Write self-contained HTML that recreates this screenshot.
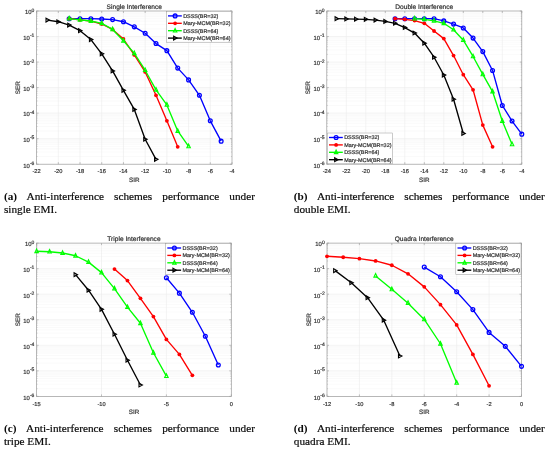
<!DOCTYPE html>
<html><head><meta charset="utf-8"><title>Anti-interference schemes performance</title>
<style>
html,body{margin:0;padding:0;background:#fff;}
body{width:550px;height:452px;position:relative;overflow:hidden;}
svg{position:absolute;left:0;top:0;font-family:"Liberation Sans",sans-serif;text-rendering:geometricPrecision;}
svg text{stroke:#3a3a3a;stroke-width:0.2px;}
.cap{position:absolute;width:251px;font-family:"Liberation Serif",serif;font-size:11.25px;line-height:13px;color:#0a0a0a;-webkit-text-stroke:0.2px #0a0a0a;white-space:nowrap;}
.cap .l1{text-align:justify;text-align-last:justify;white-space:normal;height:13.2px;}
.cap .l2{height:13.2px;}
.cap b{-webkit-text-stroke:0;}
</style></head><body>
<svg width="550" height="452" viewBox="0 0 550 452">
<rect x="36.6" y="11.0" width="195.40" height="153.20" fill="#fff"/>
<path d="M36.6 28.85H232M36.6 24.35H232M36.6 21.16H232M36.6 18.69H232M36.6 16.66H232M36.6 14.96H232M36.6 13.47H232M36.6 12.17H232M36.6 54.38H232M36.6 49.88H232M36.6 46.69H232M36.6 44.22H232M36.6 42.2H232M36.6 40.49H232M36.6 39.01H232M36.6 37.7H232M36.6 79.91H232M36.6 75.42H232M36.6 72.23H232M36.6 69.75H232M36.6 67.73H232M36.6 66.02H232M36.6 64.54H232M36.6 63.24H232M36.6 105.45H232M36.6 100.95H232M36.6 97.76H232M36.6 95.29H232M36.6 93.26H232M36.6 91.56H232M36.6 90.07H232M36.6 88.77H232M36.6 130.98H232M36.6 126.48H232M36.6 123.29H232M36.6 120.82H232M36.6 118.8H232M36.6 117.09H232M36.6 115.61H232M36.6 114.3H232M36.6 156.51H232M36.6 152.02H232M36.6 148.83H232M36.6 146.35H232M36.6 144.33H232M36.6 142.62H232M36.6 141.14H232M36.6 139.84H232" stroke="#f4f4f4" stroke-width="0.5" fill="none"/>
<path d="M36.6 36.53H232M36.6 62.07H232M36.6 87.6H232M36.6 113.13H232M36.6 138.67H232M58.31 11V164.2M80.02 11V164.2M101.73 11V164.2M123.44 11V164.2M145.16 11V164.2M166.87 11V164.2M188.58 11V164.2M210.29 11V164.2" stroke="#ebebeb" stroke-width="0.6" fill="none"/>
<rect x="36.6" y="11.0" width="195.40" height="153.20" fill="none" stroke="#9a9a9a" stroke-width="0.7"/>
<path d="M36.6 164.2v-2M36.6 11v2M58.31 164.2v-2M58.31 11v2M80.02 164.2v-2M80.02 11v2M101.73 164.2v-2M101.73 11v2M123.44 164.2v-2M123.44 11v2M145.16 164.2v-2M145.16 11v2M166.87 164.2v-2M166.87 11v2M188.58 164.2v-2M188.58 11v2M210.29 164.2v-2M210.29 11v2M232 164.2v-2M232 11v2M36.6 11h2M232 11h-2M36.6 36.53h2M232 36.53h-2M36.6 62.07h2M232 62.07h-2M36.6 87.6h2M232 87.6h-2M36.6 113.13h2M232 113.13h-2M36.6 138.67h2M232 138.67h-2M36.6 164.2h2M232 164.2h-2" stroke="#9a9a9a" stroke-width="0.6" fill="none"/>
<path d="M36.6 28.85h1M232 28.85h-1M36.6 24.35h1M232 24.35h-1M36.6 21.16h1M232 21.16h-1M36.6 18.69h1M232 18.69h-1M36.6 16.66h1M232 16.66h-1M36.6 14.96h1M232 14.96h-1M36.6 13.47h1M232 13.47h-1M36.6 12.17h1M232 12.17h-1M36.6 54.38h1M232 54.38h-1M36.6 49.88h1M232 49.88h-1M36.6 46.69h1M232 46.69h-1M36.6 44.22h1M232 44.22h-1M36.6 42.2h1M232 42.2h-1M36.6 40.49h1M232 40.49h-1M36.6 39.01h1M232 39.01h-1M36.6 37.7h1M232 37.7h-1M36.6 79.91h1M232 79.91h-1M36.6 75.42h1M232 75.42h-1M36.6 72.23h1M232 72.23h-1M36.6 69.75h1M232 69.75h-1M36.6 67.73h1M232 67.73h-1M36.6 66.02h1M232 66.02h-1M36.6 64.54h1M232 64.54h-1M36.6 63.24h1M232 63.24h-1M36.6 105.45h1M232 105.45h-1M36.6 100.95h1M232 100.95h-1M36.6 97.76h1M232 97.76h-1M36.6 95.29h1M232 95.29h-1M36.6 93.26h1M232 93.26h-1M36.6 91.56h1M232 91.56h-1M36.6 90.07h1M232 90.07h-1M36.6 88.77h1M232 88.77h-1M36.6 130.98h1M232 130.98h-1M36.6 126.48h1M232 126.48h-1M36.6 123.29h1M232 123.29h-1M36.6 120.82h1M232 120.82h-1M36.6 118.8h1M232 118.8h-1M36.6 117.09h1M232 117.09h-1M36.6 115.61h1M232 115.61h-1M36.6 114.3h1M232 114.3h-1M36.6 156.51h1M232 156.51h-1M36.6 152.02h1M232 152.02h-1M36.6 148.83h1M232 148.83h-1M36.6 146.35h1M232 146.35h-1M36.6 144.33h1M232 144.33h-1M36.6 142.62h1M232 142.62h-1M36.6 141.14h1M232 141.14h-1M36.6 139.84h1M232 139.84h-1" stroke="#9a9a9a" stroke-width="0.4" fill="none"/>
<path d="M69.17 18.69 L80.02 18.69 L90.88 18.69 L101.73 19.02 L112.59 19.61 L123.44 21.73 L134.30 26.83 L145.16 33.21 L156.01 43.57 L166.87 50.65 L177.72 68.11 L188.58 79.91 L199.43 95.29 L210.29 120.82 L221.14 141.14" fill="none" stroke="#0000ff" stroke-width="1.35" stroke-linejoin="round"/>
<circle cx="69.17" cy="18.69" r="1.90" fill="none" stroke="#0000ff" stroke-width="1.3"/>
<circle cx="80.02" cy="18.69" r="1.90" fill="none" stroke="#0000ff" stroke-width="1.3"/>
<circle cx="90.88" cy="18.69" r="1.90" fill="none" stroke="#0000ff" stroke-width="1.3"/>
<circle cx="101.73" cy="19.02" r="1.90" fill="none" stroke="#0000ff" stroke-width="1.3"/>
<circle cx="112.59" cy="19.61" r="1.90" fill="none" stroke="#0000ff" stroke-width="1.3"/>
<circle cx="123.44" cy="21.73" r="1.90" fill="none" stroke="#0000ff" stroke-width="1.3"/>
<circle cx="134.30" cy="26.83" r="1.90" fill="none" stroke="#0000ff" stroke-width="1.3"/>
<circle cx="145.16" cy="33.21" r="1.90" fill="none" stroke="#0000ff" stroke-width="1.3"/>
<circle cx="156.01" cy="43.57" r="1.90" fill="none" stroke="#0000ff" stroke-width="1.3"/>
<circle cx="166.87" cy="50.65" r="1.90" fill="none" stroke="#0000ff" stroke-width="1.3"/>
<circle cx="177.72" cy="68.11" r="1.90" fill="none" stroke="#0000ff" stroke-width="1.3"/>
<circle cx="188.58" cy="79.91" r="1.90" fill="none" stroke="#0000ff" stroke-width="1.3"/>
<circle cx="199.43" cy="95.29" r="1.90" fill="none" stroke="#0000ff" stroke-width="1.3"/>
<circle cx="210.29" cy="120.82" r="1.90" fill="none" stroke="#0000ff" stroke-width="1.3"/>
<circle cx="221.14" cy="141.14" r="1.90" fill="none" stroke="#0000ff" stroke-width="1.3"/>
<path d="M69.17 18.69 L80.02 19.85 L90.88 21.16 L101.73 23.99 L112.59 29.42 L123.44 39.01 L134.30 54.95 L145.16 71.95 L156.01 95.29 L166.87 120.82 L177.72 146.81" fill="none" stroke="#ff0000" stroke-width="1.35" stroke-linejoin="round"/>
<circle cx="69.17" cy="18.69" r="1.90" fill="#ff0000"/>
<circle cx="80.02" cy="19.85" r="1.90" fill="#ff0000"/>
<circle cx="90.88" cy="21.16" r="1.90" fill="#ff0000"/>
<circle cx="101.73" cy="23.99" r="1.90" fill="#ff0000"/>
<circle cx="112.59" cy="29.42" r="1.90" fill="#ff0000"/>
<circle cx="123.44" cy="39.01" r="1.90" fill="#ff0000"/>
<circle cx="134.30" cy="54.95" r="1.90" fill="#ff0000"/>
<circle cx="145.16" cy="71.95" r="1.90" fill="#ff0000"/>
<circle cx="156.01" cy="95.29" r="1.90" fill="#ff0000"/>
<circle cx="166.87" cy="120.82" r="1.90" fill="#ff0000"/>
<circle cx="177.72" cy="146.81" r="1.90" fill="#ff0000"/>
<path d="M69.17 18.69 L80.02 19.85 L90.88 21.02 L101.73 23.29 L112.59 29.42 L123.44 40.81 L134.30 53.32 L145.16 70.21 L156.01 89.80 L166.87 104.91 L177.72 130.98 L188.58 146.35" fill="none" stroke="#00ff00" stroke-width="1.35" stroke-linejoin="round"/>
<path d="M67.42 20.04L70.92 20.04L69.17 16.39Z" fill="none" stroke="#00ff00" stroke-width="1.1" stroke-linejoin="miter"/>
<path d="M78.27 21.20L81.77 21.20L80.02 17.55Z" fill="none" stroke="#00ff00" stroke-width="1.1" stroke-linejoin="miter"/>
<path d="M89.13 22.37L92.63 22.37L90.88 18.72Z" fill="none" stroke="#00ff00" stroke-width="1.1" stroke-linejoin="miter"/>
<path d="M99.98 24.64L103.48 24.64L101.73 20.99Z" fill="none" stroke="#00ff00" stroke-width="1.1" stroke-linejoin="miter"/>
<path d="M110.84 30.77L114.34 30.77L112.59 27.12Z" fill="none" stroke="#00ff00" stroke-width="1.1" stroke-linejoin="miter"/>
<path d="M121.69 42.16L125.19 42.16L123.44 38.51Z" fill="none" stroke="#00ff00" stroke-width="1.1" stroke-linejoin="miter"/>
<path d="M132.55 54.67L136.05 54.67L134.30 51.02Z" fill="none" stroke="#00ff00" stroke-width="1.1" stroke-linejoin="miter"/>
<path d="M143.41 71.56L146.91 71.56L145.16 67.91Z" fill="none" stroke="#00ff00" stroke-width="1.1" stroke-linejoin="miter"/>
<path d="M154.26 91.15L157.76 91.15L156.01 87.50Z" fill="none" stroke="#00ff00" stroke-width="1.1" stroke-linejoin="miter"/>
<path d="M165.12 106.26L168.62 106.26L166.87 102.61Z" fill="none" stroke="#00ff00" stroke-width="1.1" stroke-linejoin="miter"/>
<path d="M175.97 132.33L179.47 132.33L177.72 128.68Z" fill="none" stroke="#00ff00" stroke-width="1.1" stroke-linejoin="miter"/>
<path d="M186.83 147.70L190.33 147.70L188.58 144.05Z" fill="none" stroke="#00ff00" stroke-width="1.1" stroke-linejoin="miter"/>
<path d="M47.46 20.10 L58.31 21.73 L69.17 25.12 L80.02 30.65 L90.88 39.58 L101.73 53.84 L112.59 70.92 L123.44 90.36 L134.30 109.40 L145.16 139.24 L156.01 159.34" fill="none" stroke="#000000" stroke-width="1.35" stroke-linejoin="round"/>
<path d="M46.01 18.20L46.01 22.00L49.46 20.10Z" fill="none" stroke="#000000" stroke-width="1.1" stroke-linejoin="miter"/>
<path d="M56.86 19.83L56.86 23.63L60.31 21.73Z" fill="none" stroke="#000000" stroke-width="1.1" stroke-linejoin="miter"/>
<path d="M67.72 23.22L67.72 27.02L71.17 25.12Z" fill="none" stroke="#000000" stroke-width="1.1" stroke-linejoin="miter"/>
<path d="M78.57 28.75L78.57 32.55L82.02 30.65Z" fill="none" stroke="#000000" stroke-width="1.1" stroke-linejoin="miter"/>
<path d="M89.43 37.68L89.43 41.48L92.88 39.58Z" fill="none" stroke="#000000" stroke-width="1.1" stroke-linejoin="miter"/>
<path d="M100.28 51.94L100.28 55.74L103.73 53.84Z" fill="none" stroke="#000000" stroke-width="1.1" stroke-linejoin="miter"/>
<path d="M111.14 69.02L111.14 72.82L114.59 70.92Z" fill="none" stroke="#000000" stroke-width="1.1" stroke-linejoin="miter"/>
<path d="M121.99 88.46L121.99 92.26L125.44 90.36Z" fill="none" stroke="#000000" stroke-width="1.1" stroke-linejoin="miter"/>
<path d="M132.85 107.50L132.85 111.30L136.30 109.40Z" fill="none" stroke="#000000" stroke-width="1.1" stroke-linejoin="miter"/>
<path d="M143.71 137.34L143.71 141.14L147.16 139.24Z" fill="none" stroke="#000000" stroke-width="1.1" stroke-linejoin="miter"/>
<path d="M154.56 157.44L154.56 161.24L158.01 159.34Z" fill="none" stroke="#000000" stroke-width="1.1" stroke-linejoin="miter"/>
<text x="36.60" y="173.40" font-size="5.7" text-anchor="middle" fill="#333333">-22</text>
<text x="58.31" y="173.40" font-size="5.7" text-anchor="middle" fill="#333333">-20</text>
<text x="80.02" y="173.40" font-size="5.7" text-anchor="middle" fill="#333333">-18</text>
<text x="101.73" y="173.40" font-size="5.7" text-anchor="middle" fill="#333333">-16</text>
<text x="123.44" y="173.40" font-size="5.7" text-anchor="middle" fill="#333333">-14</text>
<text x="145.16" y="173.40" font-size="5.7" text-anchor="middle" fill="#333333">-12</text>
<text x="166.87" y="173.40" font-size="5.7" text-anchor="middle" fill="#333333">-10</text>
<text x="188.58" y="173.40" font-size="5.7" text-anchor="middle" fill="#333333">-8</text>
<text x="210.29" y="173.40" font-size="5.7" text-anchor="middle" fill="#333333">-6</text>
<text x="232.00" y="173.40" font-size="5.7" text-anchor="middle" fill="#333333">-4</text>
<text x="31.50" y="14.30" font-size="5.9" text-anchor="end" fill="#333333">10</text>
<text x="34.40" y="11.50" font-size="5" text-anchor="end" fill="#333333">0</text>
<text x="29.80" y="39.83" font-size="5.9" text-anchor="end" fill="#333333">10</text>
<text x="34.40" y="37.03" font-size="5" text-anchor="end" fill="#333333">-1</text>
<text x="29.80" y="65.37" font-size="5.9" text-anchor="end" fill="#333333">10</text>
<text x="34.40" y="62.57" font-size="5" text-anchor="end" fill="#333333">-2</text>
<text x="29.80" y="90.90" font-size="5.9" text-anchor="end" fill="#333333">10</text>
<text x="34.40" y="88.10" font-size="5" text-anchor="end" fill="#333333">-3</text>
<text x="29.80" y="116.43" font-size="5.9" text-anchor="end" fill="#333333">10</text>
<text x="34.40" y="113.63" font-size="5" text-anchor="end" fill="#333333">-4</text>
<text x="29.80" y="141.97" font-size="5.9" text-anchor="end" fill="#333333">10</text>
<text x="34.40" y="139.17" font-size="5" text-anchor="end" fill="#333333">-5</text>
<text x="29.80" y="167.50" font-size="5.9" text-anchor="end" fill="#333333">10</text>
<text x="34.40" y="164.70" font-size="5" text-anchor="end" fill="#333333">-6</text>
<text x="134.30" y="8.70" font-size="6.6" text-anchor="middle" fill="#242424">Single Interference</text>
<text x="134.30" y="181.80" font-size="6.3" text-anchor="middle" fill="#333333">SIR</text>
<text transform="translate(20.20 87.60) rotate(-90)" font-size="6.4" text-anchor="middle" fill="#333333">SER</text>
<rect x="166.30" y="11.40" width="65.2" height="30.8" fill="#fff" stroke="#969696" stroke-width="0.5"/>
<line x1="168.00" x2="181.80" y1="15.90" y2="15.90" stroke="#0000ff" stroke-width="1.35"/>
<circle cx="175.10" cy="15.90" r="1.90" fill="none" stroke="#0000ff" stroke-width="1.3"/>
<text x="183.20" y="17.85" font-size="5.45" fill="#222">DSSS(BR=32)</text>
<line x1="168.00" x2="181.80" y1="23.30" y2="23.30" stroke="#ff0000" stroke-width="1.35"/>
<circle cx="175.10" cy="23.30" r="1.90" fill="#ff0000"/>
<text x="183.20" y="25.25" font-size="5.45" fill="#222">Mary-MCM(BR=32)</text>
<line x1="168.00" x2="181.80" y1="30.70" y2="30.70" stroke="#00ff00" stroke-width="1.35"/>
<path d="M173.35 32.05L176.85 32.05L175.10 28.40Z" fill="none" stroke="#00ff00" stroke-width="1.1" stroke-linejoin="miter"/>
<text x="183.20" y="32.65" font-size="5.45" fill="#222">DSSS(BR=64)</text>
<line x1="168.00" x2="181.80" y1="38.10" y2="38.10" stroke="#000000" stroke-width="1.35"/>
<path d="M173.65 36.20L173.65 40.00L177.10 38.10Z" fill="none" stroke="#000000" stroke-width="1.1" stroke-linejoin="miter"/>
<text x="183.20" y="40.05" font-size="5.45" fill="#222">Mary-MCM(BR=64)</text>
<rect x="326.8" y="11.0" width="195.00" height="153.20" fill="#fff"/>
<path d="M326.8 28.85H521.8M326.8 24.35H521.8M326.8 21.16H521.8M326.8 18.69H521.8M326.8 16.66H521.8M326.8 14.96H521.8M326.8 13.47H521.8M326.8 12.17H521.8M326.8 54.38H521.8M326.8 49.88H521.8M326.8 46.69H521.8M326.8 44.22H521.8M326.8 42.2H521.8M326.8 40.49H521.8M326.8 39.01H521.8M326.8 37.7H521.8M326.8 79.91H521.8M326.8 75.42H521.8M326.8 72.23H521.8M326.8 69.75H521.8M326.8 67.73H521.8M326.8 66.02H521.8M326.8 64.54H521.8M326.8 63.24H521.8M326.8 105.45H521.8M326.8 100.95H521.8M326.8 97.76H521.8M326.8 95.29H521.8M326.8 93.26H521.8M326.8 91.56H521.8M326.8 90.07H521.8M326.8 88.77H521.8M326.8 130.98H521.8M326.8 126.48H521.8M326.8 123.29H521.8M326.8 120.82H521.8M326.8 118.8H521.8M326.8 117.09H521.8M326.8 115.61H521.8M326.8 114.3H521.8M326.8 156.51H521.8M326.8 152.02H521.8M326.8 148.83H521.8M326.8 146.35H521.8M326.8 144.33H521.8M326.8 142.62H521.8M326.8 141.14H521.8M326.8 139.84H521.8" stroke="#f4f4f4" stroke-width="0.5" fill="none"/>
<path d="M326.8 36.53H521.8M326.8 62.07H521.8M326.8 87.6H521.8M326.8 113.13H521.8M326.8 138.67H521.8M346.3 11V164.2M365.8 11V164.2M385.3 11V164.2M404.8 11V164.2M424.3 11V164.2M443.8 11V164.2M463.3 11V164.2M482.8 11V164.2M502.3 11V164.2" stroke="#ebebeb" stroke-width="0.6" fill="none"/>
<rect x="326.8" y="11.0" width="195.00" height="153.20" fill="none" stroke="#9a9a9a" stroke-width="0.7"/>
<path d="M326.8 164.2v-2M326.8 11v2M346.3 164.2v-2M346.3 11v2M365.8 164.2v-2M365.8 11v2M385.3 164.2v-2M385.3 11v2M404.8 164.2v-2M404.8 11v2M424.3 164.2v-2M424.3 11v2M443.8 164.2v-2M443.8 11v2M463.3 164.2v-2M463.3 11v2M482.8 164.2v-2M482.8 11v2M502.3 164.2v-2M502.3 11v2M521.8 164.2v-2M521.8 11v2M326.8 11h2M521.8 11h-2M326.8 36.53h2M521.8 36.53h-2M326.8 62.07h2M521.8 62.07h-2M326.8 87.6h2M521.8 87.6h-2M326.8 113.13h2M521.8 113.13h-2M326.8 138.67h2M521.8 138.67h-2M326.8 164.2h2M521.8 164.2h-2" stroke="#9a9a9a" stroke-width="0.6" fill="none"/>
<path d="M326.8 28.85h1M521.8 28.85h-1M326.8 24.35h1M521.8 24.35h-1M326.8 21.16h1M521.8 21.16h-1M326.8 18.69h1M521.8 18.69h-1M326.8 16.66h1M521.8 16.66h-1M326.8 14.96h1M521.8 14.96h-1M326.8 13.47h1M521.8 13.47h-1M326.8 12.17h1M521.8 12.17h-1M326.8 54.38h1M521.8 54.38h-1M326.8 49.88h1M521.8 49.88h-1M326.8 46.69h1M521.8 46.69h-1M326.8 44.22h1M521.8 44.22h-1M326.8 42.2h1M521.8 42.2h-1M326.8 40.49h1M521.8 40.49h-1M326.8 39.01h1M521.8 39.01h-1M326.8 37.7h1M521.8 37.7h-1M326.8 79.91h1M521.8 79.91h-1M326.8 75.42h1M521.8 75.42h-1M326.8 72.23h1M521.8 72.23h-1M326.8 69.75h1M521.8 69.75h-1M326.8 67.73h1M521.8 67.73h-1M326.8 66.02h1M521.8 66.02h-1M326.8 64.54h1M521.8 64.54h-1M326.8 63.24h1M521.8 63.24h-1M326.8 105.45h1M521.8 105.45h-1M326.8 100.95h1M521.8 100.95h-1M326.8 97.76h1M521.8 97.76h-1M326.8 95.29h1M521.8 95.29h-1M326.8 93.26h1M521.8 93.26h-1M326.8 91.56h1M521.8 91.56h-1M326.8 90.07h1M521.8 90.07h-1M326.8 88.77h1M521.8 88.77h-1M326.8 130.98h1M521.8 130.98h-1M326.8 126.48h1M521.8 126.48h-1M326.8 123.29h1M521.8 123.29h-1M326.8 120.82h1M521.8 120.82h-1M326.8 118.8h1M521.8 118.8h-1M326.8 117.09h1M521.8 117.09h-1M326.8 115.61h1M521.8 115.61h-1M326.8 114.3h1M521.8 114.3h-1M326.8 156.51h1M521.8 156.51h-1M326.8 152.02h1M521.8 152.02h-1M326.8 148.83h1M521.8 148.83h-1M326.8 146.35h1M521.8 146.35h-1M326.8 144.33h1M521.8 144.33h-1M326.8 142.62h1M521.8 142.62h-1M326.8 141.14h1M521.8 141.14h-1M326.8 139.84h1M521.8 139.84h-1" stroke="#9a9a9a" stroke-width="0.4" fill="none"/>
<path d="M395.05 18.69 L404.80 18.69 L414.55 18.69 L424.30 18.69 L434.05 18.69 L443.80 20.89 L453.55 24.10 L463.30 27.94 L473.05 38.08 L482.80 51.60 L492.55 70.44 L502.30 105.45 L512.05 121.04 L521.80 134.17" fill="none" stroke="#0000ff" stroke-width="1.35" stroke-linejoin="round"/>
<circle cx="395.05" cy="18.69" r="1.90" fill="none" stroke="#0000ff" stroke-width="1.3"/>
<circle cx="404.80" cy="18.69" r="1.90" fill="none" stroke="#0000ff" stroke-width="1.3"/>
<circle cx="414.55" cy="18.69" r="1.90" fill="none" stroke="#0000ff" stroke-width="1.3"/>
<circle cx="424.30" cy="18.69" r="1.90" fill="none" stroke="#0000ff" stroke-width="1.3"/>
<circle cx="434.05" cy="18.69" r="1.90" fill="none" stroke="#0000ff" stroke-width="1.3"/>
<circle cx="443.80" cy="20.89" r="1.90" fill="none" stroke="#0000ff" stroke-width="1.3"/>
<circle cx="453.55" cy="24.10" r="1.90" fill="none" stroke="#0000ff" stroke-width="1.3"/>
<circle cx="463.30" cy="27.94" r="1.90" fill="none" stroke="#0000ff" stroke-width="1.3"/>
<circle cx="473.05" cy="38.08" r="1.90" fill="none" stroke="#0000ff" stroke-width="1.3"/>
<circle cx="482.80" cy="51.60" r="1.90" fill="none" stroke="#0000ff" stroke-width="1.3"/>
<circle cx="492.55" cy="70.44" r="1.90" fill="none" stroke="#0000ff" stroke-width="1.3"/>
<circle cx="502.30" cy="105.45" r="1.90" fill="none" stroke="#0000ff" stroke-width="1.3"/>
<circle cx="512.05" cy="121.04" r="1.90" fill="none" stroke="#0000ff" stroke-width="1.3"/>
<circle cx="521.80" cy="134.17" r="1.90" fill="none" stroke="#0000ff" stroke-width="1.3"/>
<path d="M395.05 18.69 L404.80 19.37 L414.55 20.62 L424.30 23.29 L434.05 30.98 L443.80 38.60 L453.55 55.55 L463.30 74.70 L473.05 89.80 L482.80 125.10 L492.55 146.81" fill="none" stroke="#ff0000" stroke-width="1.35" stroke-linejoin="round"/>
<circle cx="395.05" cy="18.69" r="1.90" fill="#ff0000"/>
<circle cx="404.80" cy="19.37" r="1.90" fill="#ff0000"/>
<circle cx="414.55" cy="20.62" r="1.90" fill="#ff0000"/>
<circle cx="424.30" cy="23.29" r="1.90" fill="#ff0000"/>
<circle cx="434.05" cy="30.98" r="1.90" fill="#ff0000"/>
<circle cx="443.80" cy="38.60" r="1.90" fill="#ff0000"/>
<circle cx="453.55" cy="55.55" r="1.90" fill="#ff0000"/>
<circle cx="463.30" cy="74.70" r="1.90" fill="#ff0000"/>
<circle cx="473.05" cy="89.80" r="1.90" fill="#ff0000"/>
<circle cx="482.80" cy="125.10" r="1.90" fill="#ff0000"/>
<circle cx="492.55" cy="146.81" r="1.90" fill="#ff0000"/>
<path d="M414.55 18.69 L424.30 19.37 L434.05 20.89 L443.80 23.29 L453.55 29.71 L463.30 40.18 L473.05 56.45 L482.80 74.36 L492.55 91.56 L502.30 121.04 L512.05 144.33" fill="none" stroke="#00ff00" stroke-width="1.35" stroke-linejoin="round"/>
<path d="M412.80 20.04L416.30 20.04L414.55 16.39Z" fill="none" stroke="#00ff00" stroke-width="1.1" stroke-linejoin="miter"/>
<path d="M422.55 20.72L426.05 20.72L424.30 17.07Z" fill="none" stroke="#00ff00" stroke-width="1.1" stroke-linejoin="miter"/>
<path d="M432.30 22.24L435.80 22.24L434.05 18.59Z" fill="none" stroke="#00ff00" stroke-width="1.1" stroke-linejoin="miter"/>
<path d="M442.05 24.64L445.55 24.64L443.80 20.99Z" fill="none" stroke="#00ff00" stroke-width="1.1" stroke-linejoin="miter"/>
<path d="M451.80 31.06L455.30 31.06L453.55 27.41Z" fill="none" stroke="#00ff00" stroke-width="1.1" stroke-linejoin="miter"/>
<path d="M461.55 41.53L465.05 41.53L463.30 37.88Z" fill="none" stroke="#00ff00" stroke-width="1.1" stroke-linejoin="miter"/>
<path d="M471.30 57.80L474.80 57.80L473.05 54.15Z" fill="none" stroke="#00ff00" stroke-width="1.1" stroke-linejoin="miter"/>
<path d="M481.05 75.71L484.55 75.71L482.80 72.06Z" fill="none" stroke="#00ff00" stroke-width="1.1" stroke-linejoin="miter"/>
<path d="M490.80 92.91L494.30 92.91L492.55 89.26Z" fill="none" stroke="#00ff00" stroke-width="1.1" stroke-linejoin="miter"/>
<path d="M500.55 122.39L504.05 122.39L502.30 118.74Z" fill="none" stroke="#00ff00" stroke-width="1.1" stroke-linejoin="miter"/>
<path d="M510.30 145.68L513.80 145.68L512.05 142.03Z" fill="none" stroke="#00ff00" stroke-width="1.1" stroke-linejoin="miter"/>
<path d="M336.55 18.69 L346.30 18.91 L356.05 19.14 L365.80 19.37 L375.55 20.10 L385.30 21.44 L395.05 23.29 L404.80 27.54 L414.55 33.04 L424.30 43.16 L434.05 57.21 L443.80 75.05 L453.55 99.24 L463.30 133.45" fill="none" stroke="#000000" stroke-width="1.35" stroke-linejoin="round"/>
<path d="M335.10 16.79L335.10 20.59L338.55 18.69Z" fill="none" stroke="#000000" stroke-width="1.1" stroke-linejoin="miter"/>
<path d="M344.85 17.01L344.85 20.81L348.30 18.91Z" fill="none" stroke="#000000" stroke-width="1.1" stroke-linejoin="miter"/>
<path d="M354.60 17.24L354.60 21.04L358.05 19.14Z" fill="none" stroke="#000000" stroke-width="1.1" stroke-linejoin="miter"/>
<path d="M364.35 17.47L364.35 21.27L367.80 19.37Z" fill="none" stroke="#000000" stroke-width="1.1" stroke-linejoin="miter"/>
<path d="M374.10 18.20L374.10 22.00L377.55 20.10Z" fill="none" stroke="#000000" stroke-width="1.1" stroke-linejoin="miter"/>
<path d="M383.85 19.54L383.85 23.34L387.30 21.44Z" fill="none" stroke="#000000" stroke-width="1.1" stroke-linejoin="miter"/>
<path d="M393.60 21.39L393.60 25.19L397.05 23.29Z" fill="none" stroke="#000000" stroke-width="1.1" stroke-linejoin="miter"/>
<path d="M403.35 25.64L403.35 29.44L406.80 27.54Z" fill="none" stroke="#000000" stroke-width="1.1" stroke-linejoin="miter"/>
<path d="M413.10 31.14L413.10 34.94L416.55 33.04Z" fill="none" stroke="#000000" stroke-width="1.1" stroke-linejoin="miter"/>
<path d="M422.85 41.26L422.85 45.06L426.30 43.16Z" fill="none" stroke="#000000" stroke-width="1.1" stroke-linejoin="miter"/>
<path d="M432.60 55.31L432.60 59.11L436.05 57.21Z" fill="none" stroke="#000000" stroke-width="1.1" stroke-linejoin="miter"/>
<path d="M442.35 73.15L442.35 76.95L445.80 75.05Z" fill="none" stroke="#000000" stroke-width="1.1" stroke-linejoin="miter"/>
<path d="M452.10 97.34L452.10 101.14L455.55 99.24Z" fill="none" stroke="#000000" stroke-width="1.1" stroke-linejoin="miter"/>
<path d="M461.85 131.55L461.85 135.35L465.30 133.45Z" fill="none" stroke="#000000" stroke-width="1.1" stroke-linejoin="miter"/>
<text x="326.80" y="173.40" font-size="5.7" text-anchor="middle" fill="#333333">-24</text>
<text x="346.30" y="173.40" font-size="5.7" text-anchor="middle" fill="#333333">-22</text>
<text x="365.80" y="173.40" font-size="5.7" text-anchor="middle" fill="#333333">-20</text>
<text x="385.30" y="173.40" font-size="5.7" text-anchor="middle" fill="#333333">-18</text>
<text x="404.80" y="173.40" font-size="5.7" text-anchor="middle" fill="#333333">-16</text>
<text x="424.30" y="173.40" font-size="5.7" text-anchor="middle" fill="#333333">-14</text>
<text x="443.80" y="173.40" font-size="5.7" text-anchor="middle" fill="#333333">-12</text>
<text x="463.30" y="173.40" font-size="5.7" text-anchor="middle" fill="#333333">-10</text>
<text x="482.80" y="173.40" font-size="5.7" text-anchor="middle" fill="#333333">-8</text>
<text x="502.30" y="173.40" font-size="5.7" text-anchor="middle" fill="#333333">-6</text>
<text x="521.80" y="173.40" font-size="5.7" text-anchor="middle" fill="#333333">-4</text>
<text x="321.70" y="14.30" font-size="5.9" text-anchor="end" fill="#333333">10</text>
<text x="324.60" y="11.50" font-size="5" text-anchor="end" fill="#333333">0</text>
<text x="320.00" y="39.83" font-size="5.9" text-anchor="end" fill="#333333">10</text>
<text x="324.60" y="37.03" font-size="5" text-anchor="end" fill="#333333">-1</text>
<text x="320.00" y="65.37" font-size="5.9" text-anchor="end" fill="#333333">10</text>
<text x="324.60" y="62.57" font-size="5" text-anchor="end" fill="#333333">-2</text>
<text x="320.00" y="90.90" font-size="5.9" text-anchor="end" fill="#333333">10</text>
<text x="324.60" y="88.10" font-size="5" text-anchor="end" fill="#333333">-3</text>
<text x="320.00" y="116.43" font-size="5.9" text-anchor="end" fill="#333333">10</text>
<text x="324.60" y="113.63" font-size="5" text-anchor="end" fill="#333333">-4</text>
<text x="320.00" y="141.97" font-size="5.9" text-anchor="end" fill="#333333">10</text>
<text x="324.60" y="139.17" font-size="5" text-anchor="end" fill="#333333">-5</text>
<text x="320.00" y="167.50" font-size="5.9" text-anchor="end" fill="#333333">10</text>
<text x="324.60" y="164.70" font-size="5" text-anchor="end" fill="#333333">-6</text>
<text x="424.30" y="8.70" font-size="6.6" text-anchor="middle" fill="#242424">Double Interference</text>
<text x="424.30" y="181.80" font-size="6.3" text-anchor="middle" fill="#333333">SIR</text>
<text transform="translate(310.40 87.60) rotate(-90)" font-size="6.4" text-anchor="middle" fill="#333333">SER</text>
<rect x="327.30" y="133.00" width="65.2" height="30.8" fill="#fff" stroke="#969696" stroke-width="0.5"/>
<line x1="329.00" x2="342.80" y1="137.50" y2="137.50" stroke="#0000ff" stroke-width="1.35"/>
<circle cx="336.10" cy="137.50" r="1.90" fill="none" stroke="#0000ff" stroke-width="1.3"/>
<text x="344.20" y="139.45" font-size="5.45" fill="#222">DSSS(BR=32)</text>
<line x1="329.00" x2="342.80" y1="144.90" y2="144.90" stroke="#ff0000" stroke-width="1.35"/>
<circle cx="336.10" cy="144.90" r="1.90" fill="#ff0000"/>
<text x="344.20" y="146.85" font-size="5.45" fill="#222">Mary-MCM(BR=32)</text>
<line x1="329.00" x2="342.80" y1="152.30" y2="152.30" stroke="#00ff00" stroke-width="1.35"/>
<path d="M334.35 153.65L337.85 153.65L336.10 150.00Z" fill="none" stroke="#00ff00" stroke-width="1.1" stroke-linejoin="miter"/>
<text x="344.20" y="154.25" font-size="5.45" fill="#222">DSSS(BR=64)</text>
<line x1="329.00" x2="342.80" y1="159.70" y2="159.70" stroke="#000000" stroke-width="1.35"/>
<path d="M334.65 157.80L334.65 161.60L338.10 159.70Z" fill="none" stroke="#000000" stroke-width="1.1" stroke-linejoin="miter"/>
<text x="344.20" y="161.65" font-size="5.45" fill="#222">Mary-MCM(BR=64)</text>
<rect x="36.6" y="243.1" width="194.70" height="153.30" fill="#fff"/>
<path d="M36.6 260.96H231.3M36.6 256.46H231.3M36.6 253.27H231.3M36.6 250.79H231.3M36.6 248.77H231.3M36.6 247.06H231.3M36.6 245.58H231.3M36.6 244.27H231.3M36.6 286.51H231.3M36.6 282.01H231.3M36.6 278.82H231.3M36.6 276.34H231.3M36.6 274.32H231.3M36.6 272.61H231.3M36.6 271.13H231.3M36.6 269.82H231.3M36.6 312.06H231.3M36.6 307.56H231.3M36.6 304.37H231.3M36.6 301.89H231.3M36.6 299.87H231.3M36.6 298.16H231.3M36.6 296.68H231.3M36.6 295.37H231.3M36.6 337.61H231.3M36.6 333.11H231.3M36.6 329.92H231.3M36.6 327.44H231.3M36.6 325.42H231.3M36.6 323.71H231.3M36.6 322.23H231.3M36.6 320.92H231.3M36.6 363.16H231.3M36.6 358.66H231.3M36.6 355.47H231.3M36.6 352.99H231.3M36.6 350.97H231.3M36.6 349.26H231.3M36.6 347.78H231.3M36.6 346.47H231.3M36.6 388.71H231.3M36.6 384.21H231.3M36.6 381.02H231.3M36.6 378.54H231.3M36.6 376.52H231.3M36.6 374.81H231.3M36.6 373.33H231.3M36.6 372.02H231.3" stroke="#f4f4f4" stroke-width="0.5" fill="none"/>
<path d="M36.6 268.65H231.3M36.6 294.2H231.3M36.6 319.75H231.3M36.6 345.3H231.3M36.6 370.85H231.3M101.5 243.1V396.4M166.4 243.1V396.4" stroke="#ebebeb" stroke-width="0.6" fill="none"/>
<rect x="36.6" y="243.1" width="194.70" height="153.30" fill="none" stroke="#9a9a9a" stroke-width="0.7"/>
<path d="M36.6 396.4v-2M36.6 243.1v2M101.5 396.4v-2M101.5 243.1v2M166.4 396.4v-2M166.4 243.1v2M231.3 396.4v-2M231.3 243.1v2M36.6 243.1h2M231.3 243.1h-2M36.6 268.65h2M231.3 268.65h-2M36.6 294.2h2M231.3 294.2h-2M36.6 319.75h2M231.3 319.75h-2M36.6 345.3h2M231.3 345.3h-2M36.6 370.85h2M231.3 370.85h-2M36.6 396.4h2M231.3 396.4h-2" stroke="#9a9a9a" stroke-width="0.6" fill="none"/>
<path d="M36.6 260.96h1M231.3 260.96h-1M36.6 256.46h1M231.3 256.46h-1M36.6 253.27h1M231.3 253.27h-1M36.6 250.79h1M231.3 250.79h-1M36.6 248.77h1M231.3 248.77h-1M36.6 247.06h1M231.3 247.06h-1M36.6 245.58h1M231.3 245.58h-1M36.6 244.27h1M231.3 244.27h-1M36.6 286.51h1M231.3 286.51h-1M36.6 282.01h1M231.3 282.01h-1M36.6 278.82h1M231.3 278.82h-1M36.6 276.34h1M231.3 276.34h-1M36.6 274.32h1M231.3 274.32h-1M36.6 272.61h1M231.3 272.61h-1M36.6 271.13h1M231.3 271.13h-1M36.6 269.82h1M231.3 269.82h-1M36.6 312.06h1M231.3 312.06h-1M36.6 307.56h1M231.3 307.56h-1M36.6 304.37h1M231.3 304.37h-1M36.6 301.89h1M231.3 301.89h-1M36.6 299.87h1M231.3 299.87h-1M36.6 298.16h1M231.3 298.16h-1M36.6 296.68h1M231.3 296.68h-1M36.6 295.37h1M231.3 295.37h-1M36.6 337.61h1M231.3 337.61h-1M36.6 333.11h1M231.3 333.11h-1M36.6 329.92h1M231.3 329.92h-1M36.6 327.44h1M231.3 327.44h-1M36.6 325.42h1M231.3 325.42h-1M36.6 323.71h1M231.3 323.71h-1M36.6 322.23h1M231.3 322.23h-1M36.6 320.92h1M231.3 320.92h-1M36.6 363.16h1M231.3 363.16h-1M36.6 358.66h1M231.3 358.66h-1M36.6 355.47h1M231.3 355.47h-1M36.6 352.99h1M231.3 352.99h-1M36.6 350.97h1M231.3 350.97h-1M36.6 349.26h1M231.3 349.26h-1M36.6 347.78h1M231.3 347.78h-1M36.6 346.47h1M231.3 346.47h-1M36.6 388.71h1M231.3 388.71h-1M36.6 384.21h1M231.3 384.21h-1M36.6 381.02h1M231.3 381.02h-1M36.6 378.54h1M231.3 378.54h-1M36.6 376.52h1M231.3 376.52h-1M36.6 374.81h1M231.3 374.81h-1M36.6 373.33h1M231.3 373.33h-1M36.6 372.02h1M231.3 372.02h-1" stroke="#9a9a9a" stroke-width="0.4" fill="none"/>
<path d="M166.40 277.76 L179.38 293.14 L192.36 312.28 L205.34 336.30 L218.32 364.96" fill="none" stroke="#0000ff" stroke-width="1.35" stroke-linejoin="round"/>
<circle cx="166.40" cy="277.76" r="1.90" fill="none" stroke="#0000ff" stroke-width="1.3"/>
<circle cx="179.38" cy="293.14" r="1.90" fill="none" stroke="#0000ff" stroke-width="1.3"/>
<circle cx="192.36" cy="312.28" r="1.90" fill="none" stroke="#0000ff" stroke-width="1.3"/>
<circle cx="205.34" cy="336.30" r="1.90" fill="none" stroke="#0000ff" stroke-width="1.3"/>
<circle cx="218.32" cy="364.96" r="1.90" fill="none" stroke="#0000ff" stroke-width="1.3"/>
<path d="M114.48 269.10 L127.46 280.62 L140.44 298.32 L153.42 316.59 L166.40 339.41 L179.38 354.41 L192.36 375.29" fill="none" stroke="#ff0000" stroke-width="1.35" stroke-linejoin="round"/>
<circle cx="114.48" cy="269.10" r="1.90" fill="#ff0000"/>
<circle cx="127.46" cy="280.62" r="1.90" fill="#ff0000"/>
<circle cx="140.44" cy="298.32" r="1.90" fill="#ff0000"/>
<circle cx="153.42" cy="316.59" r="1.90" fill="#ff0000"/>
<circle cx="166.40" cy="339.41" r="1.90" fill="#ff0000"/>
<circle cx="179.38" cy="354.41" r="1.90" fill="#ff0000"/>
<circle cx="192.36" cy="375.29" r="1.90" fill="#ff0000"/>
<path d="M36.60 251.24 L49.58 251.72 L62.56 252.99 L75.54 255.74 L88.52 262.13 L101.50 272.61 L114.48 288.64 L127.46 307.20 L140.44 323.24 L153.42 352.77 L166.40 376.15" fill="none" stroke="#00ff00" stroke-width="1.35" stroke-linejoin="round"/>
<path d="M34.85 252.59L38.35 252.59L36.60 248.94Z" fill="none" stroke="#00ff00" stroke-width="1.1" stroke-linejoin="miter"/>
<path d="M47.83 253.07L51.33 253.07L49.58 249.42Z" fill="none" stroke="#00ff00" stroke-width="1.1" stroke-linejoin="miter"/>
<path d="M60.81 254.34L64.31 254.34L62.56 250.69Z" fill="none" stroke="#00ff00" stroke-width="1.1" stroke-linejoin="miter"/>
<path d="M73.79 257.09L77.29 257.09L75.54 253.44Z" fill="none" stroke="#00ff00" stroke-width="1.1" stroke-linejoin="miter"/>
<path d="M86.77 263.48L90.27 263.48L88.52 259.83Z" fill="none" stroke="#00ff00" stroke-width="1.1" stroke-linejoin="miter"/>
<path d="M99.75 273.96L103.25 273.96L101.50 270.31Z" fill="none" stroke="#00ff00" stroke-width="1.1" stroke-linejoin="miter"/>
<path d="M112.73 289.99L116.23 289.99L114.48 286.34Z" fill="none" stroke="#00ff00" stroke-width="1.1" stroke-linejoin="miter"/>
<path d="M125.71 308.55L129.21 308.55L127.46 304.90Z" fill="none" stroke="#00ff00" stroke-width="1.1" stroke-linejoin="miter"/>
<path d="M138.69 324.59L142.19 324.59L140.44 320.94Z" fill="none" stroke="#00ff00" stroke-width="1.1" stroke-linejoin="miter"/>
<path d="M151.67 354.12L155.17 354.12L153.42 350.47Z" fill="none" stroke="#00ff00" stroke-width="1.1" stroke-linejoin="miter"/>
<path d="M164.65 377.50L168.15 377.50L166.40 373.85Z" fill="none" stroke="#00ff00" stroke-width="1.1" stroke-linejoin="miter"/>
<path d="M75.54 274.69 L88.52 290.23 L101.50 309.36 L114.48 334.28 L127.46 360.25 L140.44 384.98" fill="none" stroke="#000000" stroke-width="1.35" stroke-linejoin="round"/>
<path d="M74.09 272.79L74.09 276.59L77.54 274.69Z" fill="none" stroke="#000000" stroke-width="1.1" stroke-linejoin="miter"/>
<path d="M87.07 288.33L87.07 292.13L90.52 290.23Z" fill="none" stroke="#000000" stroke-width="1.1" stroke-linejoin="miter"/>
<path d="M100.05 307.46L100.05 311.26L103.50 309.36Z" fill="none" stroke="#000000" stroke-width="1.1" stroke-linejoin="miter"/>
<path d="M113.03 332.38L113.03 336.18L116.48 334.28Z" fill="none" stroke="#000000" stroke-width="1.1" stroke-linejoin="miter"/>
<path d="M126.01 358.35L126.01 362.15L129.46 360.25Z" fill="none" stroke="#000000" stroke-width="1.1" stroke-linejoin="miter"/>
<path d="M138.99 383.08L138.99 386.88L142.44 384.98Z" fill="none" stroke="#000000" stroke-width="1.1" stroke-linejoin="miter"/>
<text x="36.60" y="405.60" font-size="5.7" text-anchor="middle" fill="#333333">-15</text>
<text x="101.50" y="405.60" font-size="5.7" text-anchor="middle" fill="#333333">-10</text>
<text x="166.40" y="405.60" font-size="5.7" text-anchor="middle" fill="#333333">-5</text>
<text x="231.30" y="405.60" font-size="5.7" text-anchor="middle" fill="#333333">0</text>
<text x="31.50" y="246.40" font-size="5.9" text-anchor="end" fill="#333333">10</text>
<text x="34.40" y="243.60" font-size="5" text-anchor="end" fill="#333333">0</text>
<text x="29.80" y="271.95" font-size="5.9" text-anchor="end" fill="#333333">10</text>
<text x="34.40" y="269.15" font-size="5" text-anchor="end" fill="#333333">-1</text>
<text x="29.80" y="297.50" font-size="5.9" text-anchor="end" fill="#333333">10</text>
<text x="34.40" y="294.70" font-size="5" text-anchor="end" fill="#333333">-2</text>
<text x="29.80" y="323.05" font-size="5.9" text-anchor="end" fill="#333333">10</text>
<text x="34.40" y="320.25" font-size="5" text-anchor="end" fill="#333333">-3</text>
<text x="29.80" y="348.60" font-size="5.9" text-anchor="end" fill="#333333">10</text>
<text x="34.40" y="345.80" font-size="5" text-anchor="end" fill="#333333">-4</text>
<text x="29.80" y="374.15" font-size="5.9" text-anchor="end" fill="#333333">10</text>
<text x="34.40" y="371.35" font-size="5" text-anchor="end" fill="#333333">-5</text>
<text x="29.80" y="399.70" font-size="5.9" text-anchor="end" fill="#333333">10</text>
<text x="34.40" y="396.90" font-size="5" text-anchor="end" fill="#333333">-6</text>
<text x="133.95" y="240.80" font-size="6.6" text-anchor="middle" fill="#242424">Triple Interference</text>
<text x="133.95" y="414.00" font-size="6.3" text-anchor="middle" fill="#333333">SIR</text>
<text transform="translate(20.20 319.75) rotate(-90)" font-size="6.4" text-anchor="middle" fill="#333333">SER</text>
<rect x="165.60" y="243.50" width="65.2" height="30.8" fill="#fff" stroke="#969696" stroke-width="0.5"/>
<line x1="167.30" x2="181.10" y1="248.00" y2="248.00" stroke="#0000ff" stroke-width="1.35"/>
<circle cx="174.40" cy="248.00" r="1.90" fill="none" stroke="#0000ff" stroke-width="1.3"/>
<text x="182.50" y="249.95" font-size="5.45" fill="#222">DSSS(BR=32)</text>
<line x1="167.30" x2="181.10" y1="255.40" y2="255.40" stroke="#ff0000" stroke-width="1.35"/>
<circle cx="174.40" cy="255.40" r="1.90" fill="#ff0000"/>
<text x="182.50" y="257.35" font-size="5.45" fill="#222">Mary-MCM(BR=32)</text>
<line x1="167.30" x2="181.10" y1="262.80" y2="262.80" stroke="#00ff00" stroke-width="1.35"/>
<path d="M172.65 264.15L176.15 264.15L174.40 260.50Z" fill="none" stroke="#00ff00" stroke-width="1.1" stroke-linejoin="miter"/>
<text x="182.50" y="264.75" font-size="5.45" fill="#222">DSSS(BR=64)</text>
<line x1="167.30" x2="181.10" y1="270.20" y2="270.20" stroke="#000000" stroke-width="1.35"/>
<path d="M172.95 268.30L172.95 272.10L176.40 270.20Z" fill="none" stroke="#000000" stroke-width="1.1" stroke-linejoin="miter"/>
<text x="182.50" y="272.15" font-size="5.45" fill="#222">Mary-MCM(BR=64)</text>
<rect x="327.0" y="243.1" width="194.50" height="153.30" fill="#fff"/>
<path d="M327 260.96H521.5M327 256.46H521.5M327 253.27H521.5M327 250.79H521.5M327 248.77H521.5M327 247.06H521.5M327 245.58H521.5M327 244.27H521.5M327 286.51H521.5M327 282.01H521.5M327 278.82H521.5M327 276.34H521.5M327 274.32H521.5M327 272.61H521.5M327 271.13H521.5M327 269.82H521.5M327 312.06H521.5M327 307.56H521.5M327 304.37H521.5M327 301.89H521.5M327 299.87H521.5M327 298.16H521.5M327 296.68H521.5M327 295.37H521.5M327 337.61H521.5M327 333.11H521.5M327 329.92H521.5M327 327.44H521.5M327 325.42H521.5M327 323.71H521.5M327 322.23H521.5M327 320.92H521.5M327 363.16H521.5M327 358.66H521.5M327 355.47H521.5M327 352.99H521.5M327 350.97H521.5M327 349.26H521.5M327 347.78H521.5M327 346.47H521.5M327 388.71H521.5M327 384.21H521.5M327 381.02H521.5M327 378.54H521.5M327 376.52H521.5M327 374.81H521.5M327 373.33H521.5M327 372.02H521.5" stroke="#f4f4f4" stroke-width="0.5" fill="none"/>
<path d="M327 268.65H521.5M327 294.2H521.5M327 319.75H521.5M327 345.3H521.5M327 370.85H521.5M359.42 243.1V396.4M391.83 243.1V396.4M424.25 243.1V396.4M456.67 243.1V396.4M489.08 243.1V396.4" stroke="#ebebeb" stroke-width="0.6" fill="none"/>
<rect x="327.0" y="243.1" width="194.50" height="153.30" fill="none" stroke="#9a9a9a" stroke-width="0.7"/>
<path d="M327 396.4v-2M327 243.1v2M359.42 396.4v-2M359.42 243.1v2M391.83 396.4v-2M391.83 243.1v2M424.25 396.4v-2M424.25 243.1v2M456.67 396.4v-2M456.67 243.1v2M489.08 396.4v-2M489.08 243.1v2M521.5 396.4v-2M521.5 243.1v2M327 243.1h2M521.5 243.1h-2M327 268.65h2M521.5 268.65h-2M327 294.2h2M521.5 294.2h-2M327 319.75h2M521.5 319.75h-2M327 345.3h2M521.5 345.3h-2M327 370.85h2M521.5 370.85h-2M327 396.4h2M521.5 396.4h-2" stroke="#9a9a9a" stroke-width="0.6" fill="none"/>
<path d="M327 260.96h1M521.5 260.96h-1M327 256.46h1M521.5 256.46h-1M327 253.27h1M521.5 253.27h-1M327 250.79h1M521.5 250.79h-1M327 248.77h1M521.5 248.77h-1M327 247.06h1M521.5 247.06h-1M327 245.58h1M521.5 245.58h-1M327 244.27h1M521.5 244.27h-1M327 286.51h1M521.5 286.51h-1M327 282.01h1M521.5 282.01h-1M327 278.82h1M521.5 278.82h-1M327 276.34h1M521.5 276.34h-1M327 274.32h1M521.5 274.32h-1M327 272.61h1M521.5 272.61h-1M327 271.13h1M521.5 271.13h-1M327 269.82h1M521.5 269.82h-1M327 312.06h1M521.5 312.06h-1M327 307.56h1M521.5 307.56h-1M327 304.37h1M521.5 304.37h-1M327 301.89h1M521.5 301.89h-1M327 299.87h1M521.5 299.87h-1M327 298.16h1M521.5 298.16h-1M327 296.68h1M521.5 296.68h-1M327 295.37h1M521.5 295.37h-1M327 337.61h1M521.5 337.61h-1M327 333.11h1M521.5 333.11h-1M327 329.92h1M521.5 329.92h-1M327 327.44h1M521.5 327.44h-1M327 325.42h1M521.5 325.42h-1M327 323.71h1M521.5 323.71h-1M327 322.23h1M521.5 322.23h-1M327 320.92h1M521.5 320.92h-1M327 363.16h1M521.5 363.16h-1M327 358.66h1M521.5 358.66h-1M327 355.47h1M521.5 355.47h-1M327 352.99h1M521.5 352.99h-1M327 350.97h1M521.5 350.97h-1M327 349.26h1M521.5 349.26h-1M327 347.78h1M521.5 347.78h-1M327 346.47h1M521.5 346.47h-1M327 388.71h1M521.5 388.71h-1M327 384.21h1M521.5 384.21h-1M327 381.02h1M521.5 381.02h-1M327 378.54h1M521.5 378.54h-1M327 376.52h1M521.5 376.52h-1M327 374.81h1M521.5 374.81h-1M327 373.33h1M521.5 373.33h-1M327 372.02h1M521.5 372.02h-1" stroke="#9a9a9a" stroke-width="0.4" fill="none"/>
<path d="M424.25 267.10 L440.46 276.79 L456.67 291.72 L472.88 309.58 L489.08 332.39 L505.29 346.35 L521.50 366.35" fill="none" stroke="#0000ff" stroke-width="1.35" stroke-linejoin="round"/>
<circle cx="424.25" cy="267.10" r="1.90" fill="none" stroke="#0000ff" stroke-width="1.3"/>
<circle cx="440.46" cy="276.79" r="1.90" fill="none" stroke="#0000ff" stroke-width="1.3"/>
<circle cx="456.67" cy="291.72" r="1.90" fill="none" stroke="#0000ff" stroke-width="1.3"/>
<circle cx="472.88" cy="309.58" r="1.90" fill="none" stroke="#0000ff" stroke-width="1.3"/>
<circle cx="489.08" cy="332.39" r="1.90" fill="none" stroke="#0000ff" stroke-width="1.3"/>
<circle cx="505.29" cy="346.35" r="1.90" fill="none" stroke="#0000ff" stroke-width="1.3"/>
<circle cx="521.50" cy="366.35" r="1.90" fill="none" stroke="#0000ff" stroke-width="1.3"/>
<path d="M327.00 256.28 L343.21 257.26 L359.42 258.66 L375.62 260.96 L391.83 265.24 L408.04 273.78 L424.25 286.85 L440.46 304.65 L456.67 324.88 L472.88 354.41 L489.08 385.80" fill="none" stroke="#ff0000" stroke-width="1.35" stroke-linejoin="round"/>
<circle cx="327.00" cy="256.28" r="1.90" fill="#ff0000"/>
<circle cx="343.21" cy="257.26" r="1.90" fill="#ff0000"/>
<circle cx="359.42" cy="258.66" r="1.90" fill="#ff0000"/>
<circle cx="375.62" cy="260.96" r="1.90" fill="#ff0000"/>
<circle cx="391.83" cy="265.24" r="1.90" fill="#ff0000"/>
<circle cx="408.04" cy="273.78" r="1.90" fill="#ff0000"/>
<circle cx="424.25" cy="286.85" r="1.90" fill="#ff0000"/>
<circle cx="440.46" cy="304.65" r="1.90" fill="#ff0000"/>
<circle cx="456.67" cy="324.88" r="1.90" fill="#ff0000"/>
<circle cx="472.88" cy="354.41" r="1.90" fill="#ff0000"/>
<circle cx="489.08" cy="385.80" r="1.90" fill="#ff0000"/>
<path d="M375.62 275.91 L391.83 289.34 L408.04 303.18 L424.25 319.42 L440.46 343.75 L456.67 382.82" fill="none" stroke="#00ff00" stroke-width="1.35" stroke-linejoin="round"/>
<path d="M373.88 277.26L377.38 277.26L375.62 273.61Z" fill="none" stroke="#00ff00" stroke-width="1.1" stroke-linejoin="miter"/>
<path d="M390.08 290.69L393.58 290.69L391.83 287.04Z" fill="none" stroke="#00ff00" stroke-width="1.1" stroke-linejoin="miter"/>
<path d="M406.29 304.53L409.79 304.53L408.04 300.88Z" fill="none" stroke="#00ff00" stroke-width="1.1" stroke-linejoin="miter"/>
<path d="M422.50 320.77L426.00 320.77L424.25 317.12Z" fill="none" stroke="#00ff00" stroke-width="1.1" stroke-linejoin="miter"/>
<path d="M438.71 345.10L442.21 345.10L440.46 341.45Z" fill="none" stroke="#00ff00" stroke-width="1.1" stroke-linejoin="miter"/>
<path d="M454.92 384.17L458.42 384.17L456.67 380.52Z" fill="none" stroke="#00ff00" stroke-width="1.1" stroke-linejoin="miter"/>
<path d="M335.10 270.64 L351.31 282.78 L367.52 297.69 L383.73 320.20 L399.94 356.04" fill="none" stroke="#000000" stroke-width="1.35" stroke-linejoin="round"/>
<path d="M333.65 268.74L333.65 272.54L337.10 270.64Z" fill="none" stroke="#000000" stroke-width="1.1" stroke-linejoin="miter"/>
<path d="M349.86 280.88L349.86 284.68L353.31 282.78Z" fill="none" stroke="#000000" stroke-width="1.1" stroke-linejoin="miter"/>
<path d="M366.07 295.79L366.07 299.59L369.52 297.69Z" fill="none" stroke="#000000" stroke-width="1.1" stroke-linejoin="miter"/>
<path d="M382.28 318.30L382.28 322.10L385.73 320.20Z" fill="none" stroke="#000000" stroke-width="1.1" stroke-linejoin="miter"/>
<path d="M398.49 354.14L398.49 357.94L401.94 356.04Z" fill="none" stroke="#000000" stroke-width="1.1" stroke-linejoin="miter"/>
<text x="327.00" y="405.60" font-size="5.7" text-anchor="middle" fill="#333333">-12</text>
<text x="359.42" y="405.60" font-size="5.7" text-anchor="middle" fill="#333333">-10</text>
<text x="391.83" y="405.60" font-size="5.7" text-anchor="middle" fill="#333333">-8</text>
<text x="424.25" y="405.60" font-size="5.7" text-anchor="middle" fill="#333333">-6</text>
<text x="456.67" y="405.60" font-size="5.7" text-anchor="middle" fill="#333333">-4</text>
<text x="489.08" y="405.60" font-size="5.7" text-anchor="middle" fill="#333333">-2</text>
<text x="521.50" y="405.60" font-size="5.7" text-anchor="middle" fill="#333333">0</text>
<text x="321.90" y="246.40" font-size="5.9" text-anchor="end" fill="#333333">10</text>
<text x="324.80" y="243.60" font-size="5" text-anchor="end" fill="#333333">0</text>
<text x="320.20" y="271.95" font-size="5.9" text-anchor="end" fill="#333333">10</text>
<text x="324.80" y="269.15" font-size="5" text-anchor="end" fill="#333333">-1</text>
<text x="320.20" y="297.50" font-size="5.9" text-anchor="end" fill="#333333">10</text>
<text x="324.80" y="294.70" font-size="5" text-anchor="end" fill="#333333">-2</text>
<text x="320.20" y="323.05" font-size="5.9" text-anchor="end" fill="#333333">10</text>
<text x="324.80" y="320.25" font-size="5" text-anchor="end" fill="#333333">-3</text>
<text x="320.20" y="348.60" font-size="5.9" text-anchor="end" fill="#333333">10</text>
<text x="324.80" y="345.80" font-size="5" text-anchor="end" fill="#333333">-4</text>
<text x="320.20" y="374.15" font-size="5.9" text-anchor="end" fill="#333333">10</text>
<text x="324.80" y="371.35" font-size="5" text-anchor="end" fill="#333333">-5</text>
<text x="320.20" y="399.70" font-size="5.9" text-anchor="end" fill="#333333">10</text>
<text x="324.80" y="396.90" font-size="5" text-anchor="end" fill="#333333">-6</text>
<text x="424.25" y="240.80" font-size="6.6" text-anchor="middle" fill="#242424">Quadra Interference</text>
<text x="424.25" y="414.00" font-size="6.3" text-anchor="middle" fill="#333333">SIR</text>
<text transform="translate(310.60 319.75) rotate(-90)" font-size="6.4" text-anchor="middle" fill="#333333">SER</text>
<rect x="455.80" y="243.50" width="65.2" height="30.8" fill="#fff" stroke="#969696" stroke-width="0.5"/>
<line x1="457.50" x2="471.30" y1="248.00" y2="248.00" stroke="#0000ff" stroke-width="1.35"/>
<circle cx="464.60" cy="248.00" r="1.90" fill="none" stroke="#0000ff" stroke-width="1.3"/>
<text x="472.70" y="249.95" font-size="5.45" fill="#222">DSSS(BR=32)</text>
<line x1="457.50" x2="471.30" y1="255.40" y2="255.40" stroke="#ff0000" stroke-width="1.35"/>
<circle cx="464.60" cy="255.40" r="1.90" fill="#ff0000"/>
<text x="472.70" y="257.35" font-size="5.45" fill="#222">Mary-MCM(BR=32)</text>
<line x1="457.50" x2="471.30" y1="262.80" y2="262.80" stroke="#00ff00" stroke-width="1.35"/>
<path d="M462.85 264.15L466.35 264.15L464.60 260.50Z" fill="none" stroke="#00ff00" stroke-width="1.1" stroke-linejoin="miter"/>
<text x="472.70" y="264.75" font-size="5.45" fill="#222">DSSS(BR=64)</text>
<line x1="457.50" x2="471.30" y1="270.20" y2="270.20" stroke="#000000" stroke-width="1.35"/>
<path d="M463.15 268.30L463.15 272.10L466.60 270.20Z" fill="none" stroke="#000000" stroke-width="1.1" stroke-linejoin="miter"/>
<text x="472.70" y="272.15" font-size="5.45" fill="#222">Mary-MCM(BR=64)</text>
</svg>
<div class="cap" style="left:3.9px;top:190px;transform:translateY(0.40px)"><div class="l1"><b>(a)</b> Anti-interference schemes performance under</div><div class="l2">single EMI.</div></div>
<div class="cap" style="left:293.8px;top:190px;transform:translateY(0.40px)"><div class="l1"><b>(b)</b> Anti-interference schemes performance under</div><div class="l2">double EMI.</div></div>
<div class="cap" style="left:3.9px;top:422px;transform:translateY(0.40px)"><div class="l1"><b>(c)</b> Anti-interference schemes performance under</div><div class="l2">tripe EMI.</div></div>
<div class="cap" style="left:293.8px;top:422px;transform:translateY(0.40px)"><div class="l1"><b>(d)</b> Anti-interference schemes performance under</div><div class="l2">quadra EMI.</div></div>

</body></html>
